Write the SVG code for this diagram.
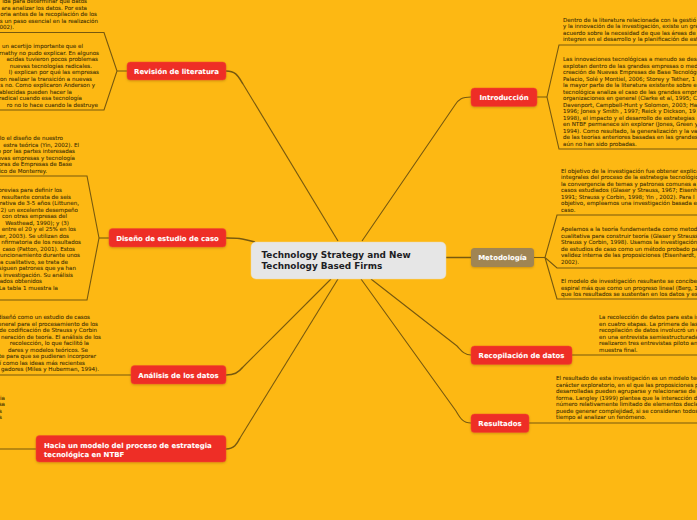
<svg xmlns="http://www.w3.org/2000/svg" width="697" height="520" viewBox="0 0 697 520">
<defs>
<style>
.l{font:5.55px "DejaVu Sans",sans-serif;fill:#3a2c03;stroke:#3a2c03;stroke-width:.08}
.e{text-anchor:end}
.n{font:bold 6.950px "DejaVu Sans",sans-serif;fill:#fff;text-anchor:middle;stroke:#fff;stroke-width:.08}
.c{fill:none;stroke:#77590f;stroke-width:1.100}
.t{fill:none;stroke:#77590f;stroke-width:1.500}
.b{fill:#ee2d27;stroke:#f5502a;stroke-width:.5}
.h{font:bold 8.900px "DejaVu Sans",sans-serif;fill:#1d1d24}
</style>
<filter id="s" x="-10%" y="-20%" width="120%" height="150%"><feDropShadow dx="0" dy="1" stdDeviation="1" flood-color="#7a5200" flood-opacity=".35"/></filter>
</defs>
<rect width="697" height="520" fill="#fdb813"/>
<g id="connectors">
<path class="t" d="M226 71C236 71 238 76 243 84"/><path class="c" d="M243 84L338 241"/>
<path class="c" d="M99 238H109"/><path class="t" d="M226 238C238 238 240 238 255 242"/>
<path class="c" d="M0 375H131"/><path class="t" d="M226 375C234 375 238 373 243 367"/><path class="c" d="M243 367L331 279"/>
<path class="c" d="M0 449H36"/><path class="t" d="M226 449C234 449 237 444 240 438"/><path class="c" d="M240 438L338 279"/>
<path class="c" d="M362 241L455 105C459 99 462 97 471 97M537 97H547"/>
<path class="t" d="M446 257.500H471"/><path class="c" d="M534 257.500H545"/>
<path class="c" d="M371 279L457 346C461 350 464 355 471 355M572 355H697"/>
<path class="c" d="M361 279L456 411C460 418 463 423 471 423M529 423H697"/>
<path class="c" d="M0 32.500H104L117 71L104 110H0M117 71H127"/>
<path class="c" d="M0 176H87L99 238L87 300H0"/>
<path class="c" d="M697 45H559L547 97L559 149H697"/>
<path class="c" d="M697 215H557L545 257.500L557 268H697M545 257.500L557 299H697"/>
</g>
<g id="central"><rect x="251" y="242" width="195" height="37" rx="5" fill="#e6e6e6" stroke="#f0d9a0" stroke-width=".5"/>
<text class="h" x="261.500" y="258">Technology Strategy and New</text>
<text class="h" x="261.500" y="269">Technology Based Firms</text></g>
<g id="revision"><rect class="b" x="127" y="62" width="99" height="18" rx="3.500" filter="url(#s)"/><text class="n" x="176.500" y="74">Revisión de literatura</text></g>
<g id="diseno"><rect class="b" x="109" y="228.500" width="117" height="18.500" rx="3.500" filter="url(#s)"/><text class="n" x="167.500" y="241">Diseño de estudio de caso</text></g>
<g id="analisis"><rect class="b" x="131" y="365.500" width="95" height="18.500" rx="3.500" filter="url(#s)"/><text class="n" x="178.500" y="378">Análisis de los datos</text></g>
<g id="hacia"><rect class="b" x="36" y="435.500" width="190" height="26.500" rx="3.500" filter="url(#s)"/><text class="n" style="text-anchor:start" x="44" y="448">Hacia un modelo del proceso de estrategia</text><text class="n" style="text-anchor:start" x="44" y="456.500">tecnológica en NTBF</text></g>
<g id="introduccion"><rect class="b" x="471" y="88" width="66" height="18.500" rx="3.500" filter="url(#s)"/><text class="n" x="504" y="100">Introducción</text></g>
<g id="metodologia"><rect x="471" y="248" width="63" height="19" rx="3.500" fill="#a08552" filter="url(#s)"/><text class="n" x="502.500" y="260">Metodología</text></g>
<g id="recopilacion"><rect class="b" x="471" y="346" width="101" height="18.500" rx="3.500" filter="url(#s)"/><text class="n" x="521.500" y="358">Recopilación de datos</text></g>
<g id="resultados"><rect class="b" x="471" y="414" width="58" height="18.500" rx="3.500" filter="url(#s)"/><text class="n" x="500" y="426">Resultados</text></g>
<g id="leaf-revision">
<text class="l e" x="87" y="3">ida para determinar qué datos</text>
<text class="l e" x="87" y="9.500">ara analizar los datos. Por esta</text>
<text class="l e" x="97" y="16">oria antes de la recopilación de los</text>
<text class="l e" x="98" y="22.500">s un paso esencial en la realización</text>
<text class="l e" x="14" y="29">002).</text>
<text class="l e" x="83" y="48">un acertijo importante que el</text>
<text class="l e" x="99" y="54.500">rnathy no pudo explicar. En algunos</text>
<text class="l e" x="98" y="61">acidas tuvieron pocos problemas</text>
<text class="l e" x="92" y="67.500">nuevas tecnologías radicales.</text>
<text class="l e" x="99" y="74">l) explican por qué las empresas</text>
<text class="l e" x="92" y="80.500">ron realizar la transición a nuevas</text>
<text class="l e" x="95" y="87">s no. Como explicaron Anderson y</text>
<text class="l e" x="72" y="93.500">ablecidas pueden hacer la</text>
<text class="l e" x="82" y="100">radical cuando esa tecnología</text>
<text class="l e" x="98" y="106.500">ro no lo hace cuando la destruye</text>
</g>
<g id="leaf-diseno">
<text class="l e" x="63" y="139.500">lo el diseño de nuestro</text>
<text class="l e" x="79" y="146.500">estra teórica (Yin, 2002). El</text>
<text class="l e" x="75" y="153">o por las partes interesadas</text>
<text class="l e" x="75" y="159.500">evas empresas y tecnología</text>
<text class="l e" x="72" y="166">oras de Empresas de Base</text>
<text class="l e" x="47" y="172.500">ico de Monterrey.</text>
<text class="l e" x="62" y="192">previas para definir los</text>
<text class="l e" x="71" y="198.500">resultante consta de seis</text>
<text class="l e" x="79" y="205">rativa de 3-5 años (Littunen,</text>
<text class="l e" x="78" y="211.500">2) un excelente desempeño</text>
<text class="l e" x="67" y="218">con otras empresas del</text>
<text class="l e" x="69" y="224.500">Westhead, 1990); y (3)</text>
<text class="l e" x="76" y="231">entre el 20 y el 25% en los</text>
<text class="l e" x="69" y="237.500">er, 2003). Se utilizan dos</text>
<text class="l e" x="81" y="244">nfirmatoria de los resultados</text>
<text class="l e" x="75" y="250.500">caso (Patton, 2001). Estos</text>
<text class="l e" x="80" y="257">funcionamiento durante unos</text>
<text class="l e" x="68" y="263.500">a cualitativo, se trata de</text>
<text class="l e" x="76" y="270">siguen patrones que ya han</text>
<text class="l e" x="73" y="276.500">s investigación. Su análisis</text>
<text class="l e" x="42" y="283">tados obtenidos</text>
<text class="l e" x="58" y="289.500">La tabla 1 muestra la</text>
</g>
<g id="leaf-analisis">
<text class="l e" x="90" y="319">diseñó como un estudio de casos</text>
<text class="l e" x="98" y="325.500">eneral para el procesamiento de los</text>
<text class="l e" x="97" y="332">de codificación de Strauss y Corbin</text>
<text class="l e" x="101" y="338.500">neración de teoría. El análisis de los</text>
<text class="l e" x="89" y="345">recolección, lo que facilitó la</text>
<text class="l e" x="88" y="351.500">dares y modelos teóricos. Se</text>
<text class="l e" x="96" y="358">te para que se pudieran incorporar</text>
<text class="l e" x="85" y="364.500">í como las ideas más recientes</text>
<text class="l e" x="99" y="371">gadores (Miles y Huberman, 1994).</text>
</g>
<g id="leaf-hacia">
<text class="l e" x="5" y="399.500">ia</text>
<text class="l e" x="5" y="406">sa</text>
<text class="l e" x="2" y="412.500">s</text>
<text class="l e" x="2" y="419">s</text>
</g>
<g id="leaf-introduccion">
<text class="l" x="563" y="21.500">Dentro de la literatura relacionada con la gestió</text>
<text class="l" x="563" y="28">y la innovación de la investigación, existe un gra</text>
<text class="l" x="563" y="34.500">acuerdo sobre la necesidad de que las áreas de</text>
<text class="l" x="563" y="41">integren en el desarrollo y la planificación de est</text>
<text class="l" x="563" y="61">Las innovaciones tecnológicas a menudo se desa</text>
<text class="l" x="563" y="67.500">explotan dentro de las grandes empresas o med</text>
<text class="l" x="563" y="74">creación de Nuevas Empresas de Base Tecnológi</text>
<text class="l" x="563" y="80.500">Palacio, Solé y Montiel, 2006; Storey y Tether, 1</text>
<text class="l" x="563" y="87">la mayor parte de la literatura existente sobre e</text>
<text class="l" x="563" y="93.500">tecnológica analiza el caso de las grandes empre</text>
<text class="l" x="563" y="100">organizaciones en general (Clarke et al, 1995; C</text>
<text class="l" x="563" y="106.500">Davenport, Campbell-Hunt y Solomon, 2003; Ha</text>
<text class="l" x="563" y="113">1996; Jones y Smith , 1997; Reick y Dickson, 19</text>
<text class="l" x="563" y="119.500">1998), el impacto y el desarrollo de estrategias</text>
<text class="l" x="563" y="126">en NTBF permanece sin explorar (Jones, Green y</text>
<text class="l" x="563" y="132.500">1994). Como resultado, la generalización y la va</text>
<text class="l" x="563" y="139">de las teorías anteriores basadas en las grandes</text>
<text class="l" x="563" y="145.500">aún no han sido probadas.</text>
</g>
<g id="leaf-metodologia">
<text class="l" x="561" y="172.500">El objetivo de la investigación fue obtener explica</text>
<text class="l" x="561" y="179">integrales del proceso de la estrategia tecnológica</text>
<text class="l" x="561" y="185.500">la convergencia de temas y patrones comunes a</text>
<text class="l" x="561" y="192">casos estudiados (Glaser y Strauss, 1967; Eisenh</text>
<text class="l" x="561" y="198.500">1991; Strauss y Corbin, 1998; Yin , 2002). Para l</text>
<text class="l" x="561" y="205">objetivo, empleamos una investigación basada en</text>
<text class="l" x="561" y="211.500">caso.</text>
<text class="l" x="561" y="231">Apelamos a la teoría fundamentada como metodo</text>
<text class="l" x="561" y="237.500">cualitativa para construir teoría (Glaser y Strauss</text>
<text class="l" x="561" y="244">Strauss y Corbin, 1998). Usamos la investigación</text>
<text class="l" x="561" y="250.500">de estudios de caso como un método probado par</text>
<text class="l" x="561" y="257">validez interna de las proposiciones (Eisenhardt,</text>
<text class="l" x="561" y="263.500">2002).</text>
<text class="l" x="561" y="283">El modelo de investigación resultante se concibe</text>
<text class="l" x="561" y="289.500">espiral más que como un progreso lineal (Berg, 1</text>
<text class="l" x="561" y="296">que los resultados se sustentan en los datos y es</text>
</g>
<g id="leaf-recopilacion">
<text class="l" x="599" y="319">La recolección de datos para esta in</text>
<text class="l" x="599" y="325.500">en cuatro etapas. La primera de las</text>
<text class="l" x="599" y="332">recopilación de datos involucró un e</text>
<text class="l" x="599" y="338.500">en una entrevista semiestructurada</text>
<text class="l" x="599" y="345">realizaron tres entrevistas piloto an</text>
<text class="l" x="599" y="351.500">muestra final.</text>
</g>
<g id="leaf-resultados">
<text class="l" x="556" y="380">El resultado de esta investigación es un modelo teó</text>
<text class="l" x="556" y="386.500">carácter exploratorio, en el que las proposiciones p</text>
<text class="l" x="556" y="393">desarrolladas pueden agruparse y relacionarse de m</text>
<text class="l" x="556" y="399.500">forma. Langley (1999) plantea que la interacción d</text>
<text class="l" x="556" y="406">número relativamente limitado de elementos decla</text>
<text class="l" x="556" y="412.500">puede generar complejidad, si se consideran todos</text>
<text class="l" x="556" y="419">tiempo al analizar un fenómeno.</text>
</g>
</svg>
